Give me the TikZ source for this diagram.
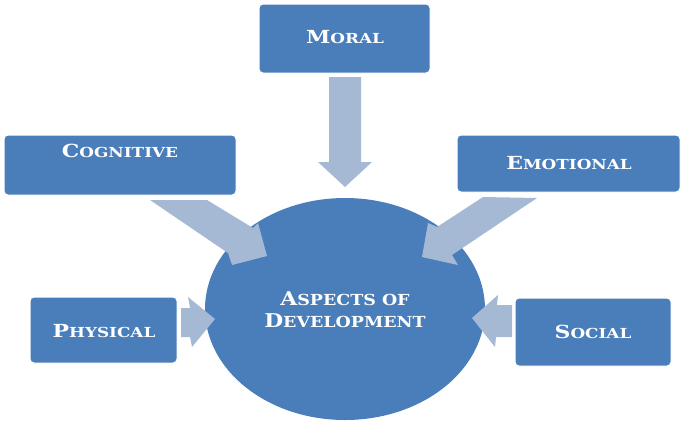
\documentclass[tikz,border=0pt]{standalone}
\usepackage{fontspec}
\newfontfamily\cpfont[FakeStretch=1.22]{DejaVu Serif}
\newfontfamily\cpcfont[FakeStretch=1.15]{DejaVu Serif}
\definecolor{boxblue}{HTML}{4A7EBB}
\definecolor{arrowblue}{HTML}{A5B9D5}
\newcommand\scwd[2]{{\fontsize{18}{20}\selectfont#1}{\fontsize{13.8}{20}\selectfont#2}}
\newcommand\scwc[2]{{\fontsize{19}{22}\selectfont#1}{\fontsize{15.2}{22}\selectfont#2}}
\tikzset{
  aspectbox/.style={fill=boxblue, draw=white, line width=1pt, rounded corners=4pt},
  lbl/.style={text=white, font=\cpfont\bfseries, inner sep=0pt, anchor=base},
  clbl/.style={text=white, font=\cpcfont\bfseries, inner sep=0pt, anchor=base},
  blockarrow/.style={fill=arrowblue, draw=none}
}
\begin{document}
\begin{tikzpicture}[x=1pt,y=-1pt]
\useasboundingbox (0,0) rectangle (685,424);
% central ellipse
\fill[boxblue] (345,309) ellipse [x radius=140, y radius=111];
\node[clbl] (centre1) at (345,305) {\scwc{A}{SPECTS OF}};
\node[clbl] (centre2) at (345,327) {\scwc{D}{EVELOPMENT}};
% boxes
\draw[aspectbox] (259,4) rectangle (430,73);
\node[lbl] (moral) at (345,43) {\scwd{M}{ORAL}};
\draw[aspectbox] (4,135) rectangle (236,195);
\node[lbl] (cognitive) at (120,157) {\scwd{C}{OGNITIVE}};
\draw[aspectbox] (457,135) rectangle (680,192);
\node[lbl] (emotional) at (569,169) {\scwd{E}{MOTIONAL}};
\draw[aspectbox] (30,297) rectangle (177,363);
\node[lbl] (physical) at (104,337) {\scwd{P}{HYSICAL}};
\draw[aspectbox] (515,298) rectangle (671,366);
\node[lbl] (social) at (593,338) {\scwd{S}{OCIAL}};
% block arrows
\fill[blockarrow] (329,77) -- (361,77) -- (361,162) -- (372,162) -- (345,187) -- (318,162) -- (329,162) -- cycle;
\fill[blockarrow] (150,200) -- (207,200) -- (253,228) -- (258,223) -- (267,256) -- (232,265) -- (228,253) -- cycle;
\fill[blockarrow] (483,197) -- (537,198) -- (452,255) -- (458,265) -- (422,257) -- (428,223) -- (437,227) -- cycle;
\fill[blockarrow] (181,308) -- (190,308) -- (188,297) -- (215,319) -- (192,347) -- (190,337) -- (181,337) -- cycle;
\fill[blockarrow] (512,305) -- (497,305) -- (498,295) -- (472,318) -- (495,347) -- (496,337) -- (512,337) -- cycle;
\end{tikzpicture}
\end{document}
